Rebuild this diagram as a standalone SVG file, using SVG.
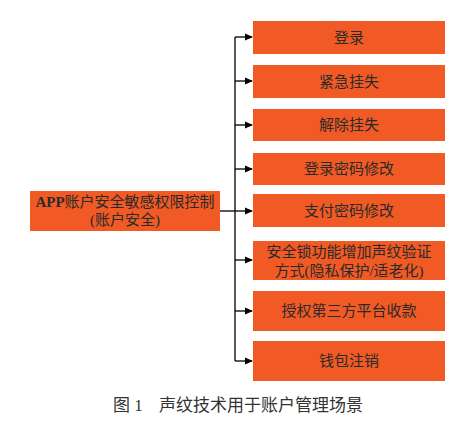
<svg xmlns="http://www.w3.org/2000/svg" width="474" height="425" viewBox="0 0 474 425">
<style>
.box{fill:#F15A24;}
.t{font-family:"Liberation Serif","Noto Sans CJK SC",serif;font-size:15px;fill:#2a2a2a;text-anchor:middle;}
.c{fill:none;stroke:#000;stroke-width:1.3;}
.cap{font-family:"Liberation Serif","Noto Sans CJK SC",serif;font-size:17px;fill:#333;}
</style>
<defs>
<marker id="ah" markerWidth="8" markerHeight="8" refX="7" refY="4" orient="auto" markerUnits="userSpaceOnUse">
<path d="M0,0.5 L8,4 L0,7.5 Z" fill="#000"/>
</marker>
</defs>
<rect width="474" height="425" fill="#fff"/>
<g id="connectors">
<path class="c" d="M220,211 H235"/>
<path class="c" d="M235,37 V361"/>
<path class="c" d="M235,37 H252" marker-end="url(#ah)"/>
<path class="c" d="M235,81 H252" marker-end="url(#ah)"/>
<path class="c" d="M235,125 H252" marker-end="url(#ah)"/>
<path class="c" d="M235,169 H252" marker-end="url(#ah)"/>
<path class="c" d="M235,211 H252" marker-end="url(#ah)"/>
<path class="c" d="M235,260 H252" marker-end="url(#ah)"/>
<path class="c" d="M235,311 H252" marker-end="url(#ah)"/>
<path class="c" d="M235,361 H252" marker-end="url(#ah)"/>
</g>
<g id="root">
<rect class="box" x="30" y="191" width="190" height="40"/>
<text class="t" x="125" y="207"><tspan font-weight="bold">APP</tspan>账户安全敏感权限控制</text>
<text class="t" x="125" y="225">(账户安全)</text>
</g>
<g id="n1"><rect class="box" x="253" y="21" width="192" height="33"/><text class="t" x="349" y="42.5">登录</text></g>
<g id="n2"><rect class="box" x="253" y="65" width="192" height="33"/><text class="t" x="349" y="86.5">紧急挂失</text></g>
<g id="n3"><rect class="box" x="253" y="109" width="192" height="32"/><text class="t" x="349" y="130">解除挂失</text></g>
<g id="n4"><rect class="box" x="253" y="153" width="192" height="32"/><text class="t" x="349" y="174">登录密码修改</text></g>
<g id="n5"><rect class="box" x="253" y="194" width="192" height="33"/><text class="t" x="349" y="215.5">支付密码修改</text></g>
<g id="n6"><rect class="box" x="253" y="241" width="192" height="39"/><text class="t" x="349" y="257">安全锁功能增加声纹验证</text><text class="t" x="349" y="276">方式(隐私保护/适老化)</text></g>
<g id="n7"><rect class="box" x="253" y="291" width="192" height="40"/><text class="t" x="349" y="316">授权第三方平台收款</text></g>
<g id="n8"><rect class="box" x="253" y="341" width="192" height="40"/><text class="t" x="349" y="366">钱包注销</text></g>
<text class="cap" x="113" y="411">图 1<tspan x="159">声纹技术用于账户管理场景</tspan></text>
</svg>
